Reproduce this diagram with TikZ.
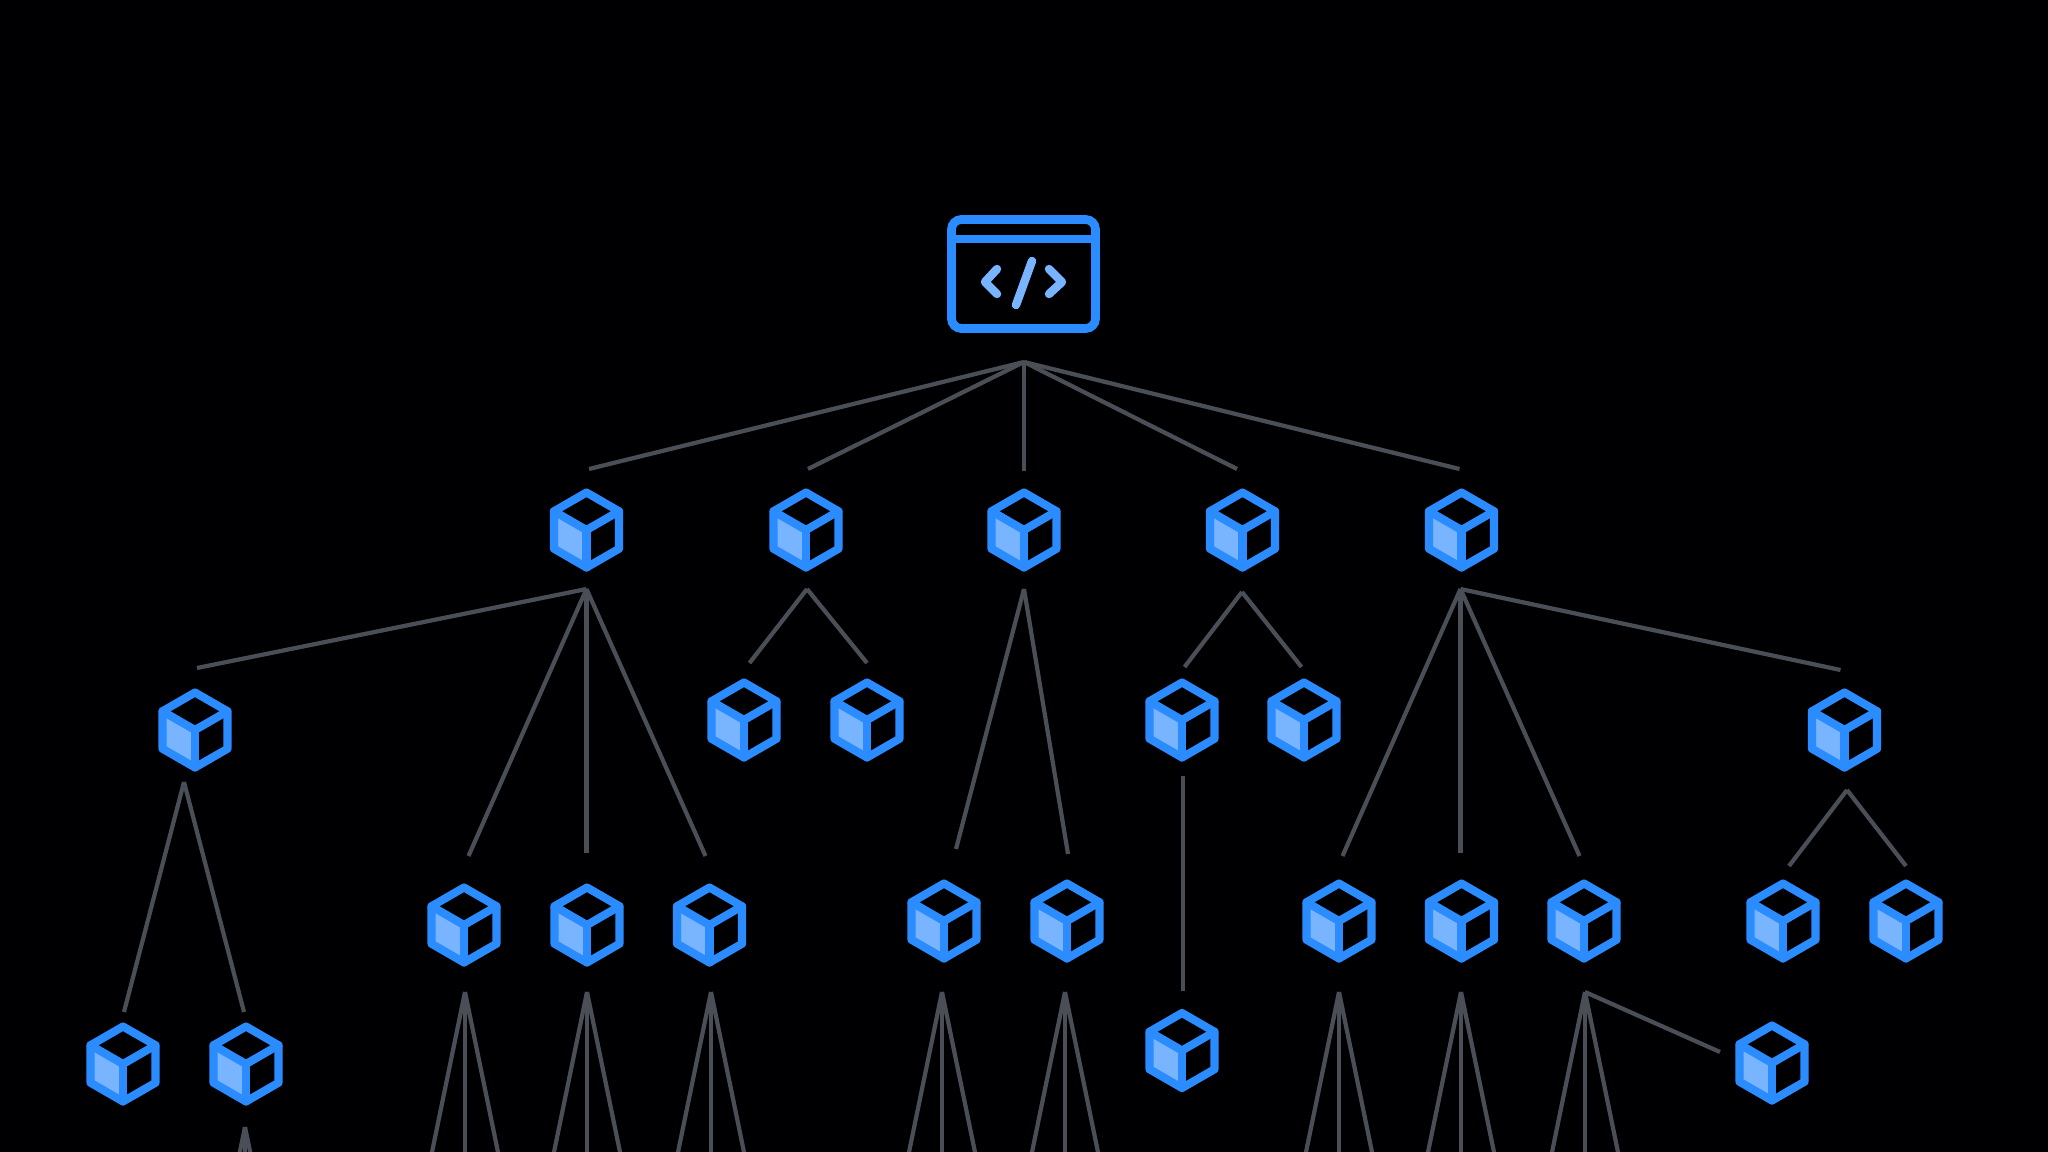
\documentclass[tikz,border=0pt]{standalone}
\usetikzlibrary{calc}
\definecolor{bgc}{HTML}{000003}
\definecolor{cubeblue}{HTML}{2A8CFF}
\definecolor{cubelight}{HTML}{78B4FF}
\definecolor{linkc}{HTML}{4A4F57}
\tikzset{
  cubebox/.style={inner sep=0pt,minimum width=0.72cm,minimum height=0.84cm},
  link/.style={draw=linkc,line width=1.2pt},
  cubeline/.style={draw=cubeblue,line width=2.3pt,line join=round,line cap=round},
  iconline/.style={draw=cubeblue,line width=2.5pt},
  glyphline/.style={draw=cubelight,line width=2.4pt,line cap=round,line join=round},
}
% \cube{name}{x}{y}
\newcommand{\cube}[3]{%
  \node[cubebox] (#1) at (#2,#3) {};
  \fill[cubelight] (#2,#3) ++(-32.5,-18.75) -- ++(32.5,18.75) -- ++(0,37.5) -- ++(-32.5,-18.75) -- cycle;
  \draw[cubeline] (#2,#3) ++(0,-37.5) -- ++(32.5,18.75) -- ++(0,37.5) -- ++(-32.5,18.75) -- ++(-32.5,-18.75) -- ++(0,-37.5) -- cycle;
  \draw[cubeline] (#2,#3) ++(-32.5,-18.75) -- ++(32.5,18.75) -- ++(32.5,-18.75);
  \draw[cubeline] (#2,#3) -- ++(0,37.5);
}
% \branch{hub}{target}{dx}{dy}
\newcommand{\branch}[4]{\draw[link] (#1) -- ($(#2)+(#3,#4)$);}
% \triple{hub}{x}{y}: three lines running off the bottom edge
\newcommand{\triple}[3]{%
  \coordinate (#1) at (#2,#3);
  \coordinate (#1l) at ($(#1)+(-0.206*1170+0.206*#3,1170-#3)$);
  \coordinate (#1m) at ($(#1)+(0,1170-#3)$);
  \coordinate (#1r) at ($(#1)+(0.206*1170-0.206*#3,1170-#3)$);
  \draw[link] (#1) -- (#1l);
  \draw[link] (#1) -- (#1m);
  \draw[link] (#1) -- (#1r);
}
\begin{document}
\begin{tikzpicture}[x=0.01cm,y=-0.01cm]
\useasboundingbox (0,0) rectangle (2048,1152);
\fill[bgc] (0,0) rectangle (2048,1152);
\clip (0,0) rectangle (2048,1152);

% root icon
\node[inner sep=0pt,minimum width=1.53cm,minimum height=1.18cm] (root) at (1023.5,274) {};
\draw[iconline,rounded corners=10*0.01cm] (951.5,219.5) rectangle (1095.5,328.5);
\draw[iconline] (951.5,239) -- (1095.5,239);
\draw[glyphline] (997,269) -- (985,282) -- (997,294);
\draw[glyphline] (1049,269) -- (1062,282) -- (1049,294);
\draw[glyphline] (1032,261) -- (1016,305);

% cubes
\cube{a}{586.5}{530}
\cube{b}{806}{530}
\cube{c}{1024}{530}
\cube{d}{1242.5}{530}
\cube{e}{1461.5}{530}
\cube{aa}{195}{730}
\cube{ba}{744}{720}
\cube{bb}{867}{720}
\cube{da}{1182}{720}
\cube{db}{1304}{720}
\cube{ez}{1844.5}{730}
\cube{ab}{464}{925}
\cube{ac}{587}{925}
\cube{ad}{709.5}{925}
\cube{ca}{944}{921}
\cube{cb}{1067}{921}
\cube{ea}{1339}{921}
\cube{eb}{1461.5}{921}
\cube{ec}{1584}{921}
\cube{za}{1783}{921}
\cube{zb}{1906}{921}
\cube{aaa}{123}{1064}
\cube{aab}{246}{1064}
\cube{daa}{1182}{1050.5}
\cube{ecd}{1772}{1063}

% hubs
\coordinate (hroot) at (1024,362);
\coordinate (ha) at (586.5,589);
\coordinate (hb) at (807,589);
\coordinate (hc) at (1024,589);
\coordinate (hd) at (1242,592);
\coordinate (he) at (1460.5,589);
\coordinate (haa) at (184,782);
\coordinate (hez) at (1847,790);
\coordinate (hda) at (1183,776);

% connectors
\branch{hroot}{a}{2.5}{-61}
\branch{hroot}{b}{2}{-61}
\branch{hroot}{c}{0}{-59}
\branch{hroot}{d}{-5.5}{-61}
\branch{hroot}{e}{-2}{-61}
\branch{ha}{aa}{2}{-62}
\branch{ha}{ab}{4.5}{-69}
\branch{ha}{ac}{-0.5}{-72}
\branch{ha}{ad}{-4}{-69}
\branch{hb}{ba}{5.5}{-57}
\branch{hb}{bb}{0}{-57}
\branch{hc}{ca}{12}{-72}
\branch{hc}{cb}{1}{-67}
\branch{hd}{da}{2.5}{-53}
\branch{hd}{db}{-2.5}{-53}
\branch{he}{ea}{3.5}{-65}
\branch{he}{eb}{-1}{-68}
\branch{he}{ec}{-4.5}{-65}
\branch{he}{ez}{-4}{-60}
\branch{haa}{aaa}{1}{-52}
\branch{haa}{aab}{-2}{-52}
\branch{hez}{za}{6}{-55}
\branch{hez}{zb}{0}{-55}
\branch{hda}{daa}{1}{-60}

% branches running off the bottom edge
\triple{ta}{465}{992}
\triple{tb}{587}{992}
\triple{tc}{711}{992}
\triple{td}{942}{992}
\triple{te}{1065}{992}
\triple{tf}{1339}{992}
\triple{tg}{1461}{992}
\triple{th}{1585}{992}
\triple{ti}{245}{1127}
\branch{th}{ecd}{-52}{-11}
\end{tikzpicture}
\end{document}
